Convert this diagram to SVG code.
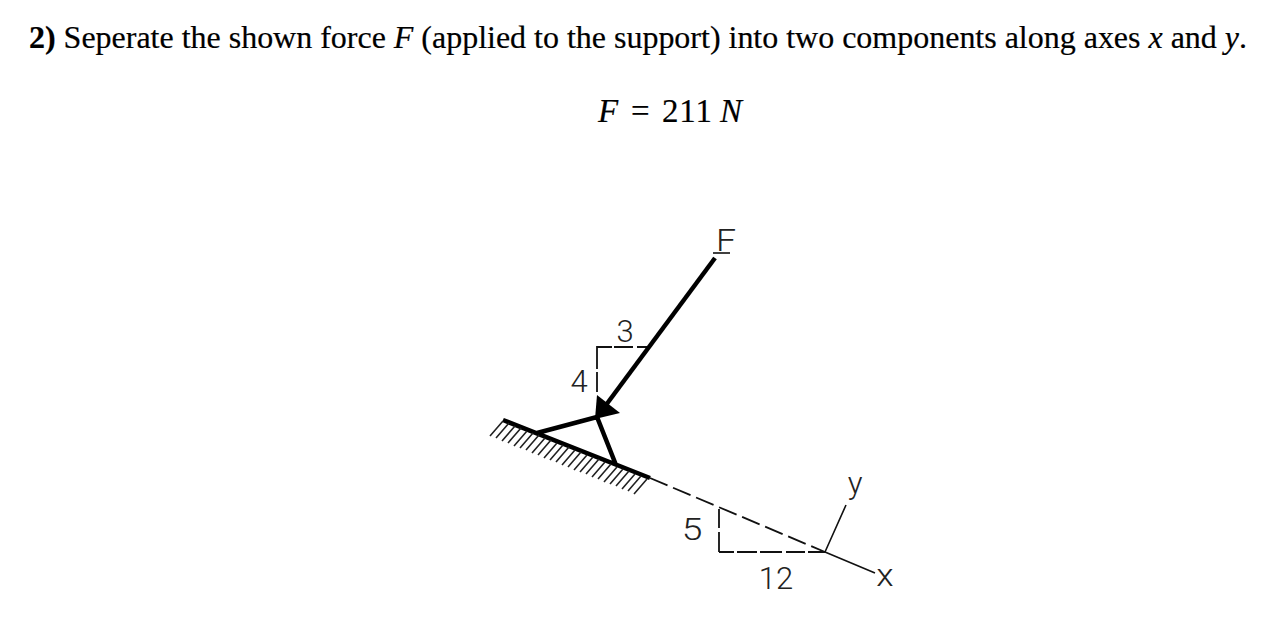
<svg xmlns="http://www.w3.org/2000/svg" width="1282" height="628" viewBox="0 0 1282 628">
<defs><style>
.t{font-family:"Liberation Serif","Times New Roman",serif;fill:#000;stroke:#000;stroke-width:.2}
.c{font-family:"Roboto","Liberation Sans",sans-serif;font-weight:300;font-size:31px;fill:#222}
.th{fill:none;stroke:#000;stroke-width:4.5;stroke-linecap:butt}
.s{fill:none;stroke:#111;stroke-width:1.6}
.d{fill:none;stroke:#111;stroke-width:1.8}
</style></defs>
<rect width="1282" height="628" fill="#fff"/>
<g id="title"><text class="t" x="29" y="48" font-size="32" textLength="1218" lengthAdjust="spacing"><tspan font-weight="bold">2)</tspan> Seperate the shown force <tspan font-style="italic">F</tspan> (applied to the support) into two components along axes <tspan font-style="italic">x</tspan> and <tspan font-style="italic">y</tspan>.</text></g>
<g id="equation" class="t" font-size="33"><text x="598" y="122" font-style="italic">F</text><text x="631" y="122">=</text><text x="662" y="122" textLength="50">211</text><text x="720" y="122" font-style="italic">N</text></g>
<g id="connectors">
<path class="d" stroke-dasharray="19 6" d="M650 478L825 552"/>
<path class="d" stroke-dasharray="15 3 20 3 22 4 19 3 17 0" d="M719 552H825"/>
<path class="d" stroke-dasharray="19 4 20 0" d="M719 509V552"/>
<path class="d" stroke-dasharray="15 2 19 4 11 0" d="M597 347H648"/>
<path class="d" stroke-dasharray="23 3 20 0" d="M597 346V392"/>
<path class="s" d="M825 552L875 573M825 552L846 505"/>
</g>
<g id="force"><path class="th" d="M715 258L606 405"/><path d="M597 395L620 413L595 419Z" fill="#000"/></g>
<g id="support">
<path class="th" d="M503 420L650 478M537 433L597 417L616 465"/>
<path fill="none" stroke="#222" stroke-width="1.6" d="M503 421l-13 15M509 423l-13 15M515 426l-13 15M521 428l-13 15M527 431l-13 15M533 433l-13 15M539 435l-13 15M545 438l-13 15M551 440l-13 15M557 443l-13 15M563 445l-13 15M569 447l-13 15M575 450l-13 15M581 452l-13 15M587 455l-13 15M593 457l-13 15M599 459l-13 15M605 462l-13 15M611 464l-13 15M617 467l-13 15M623 469l-13 15M629 471l-13 15M635 474l-13 15M641 476l-13 15M647 479l-13 15"/>
</g>
<g id="labels">
<text class="c" transform="translate(716 251) scale(1.15 1)">F</text><path class="s" d="M713 253H730"/>
<text class="c" x="625" y="342" text-anchor="middle">3</text>
<text class="c" x="579" y="392" text-anchor="middle">4</text>
<text class="c" transform="translate(692 540) scale(1.2 1)" text-anchor="middle">5</text>
<text class="c" x="776" y="589" text-anchor="middle">12</text>
<text class="c" x="855" y="494" text-anchor="middle">y</text>
<text class="c" transform="translate(885 586) scale(1.15 1)" text-anchor="middle">x</text>
</g>
</svg>
